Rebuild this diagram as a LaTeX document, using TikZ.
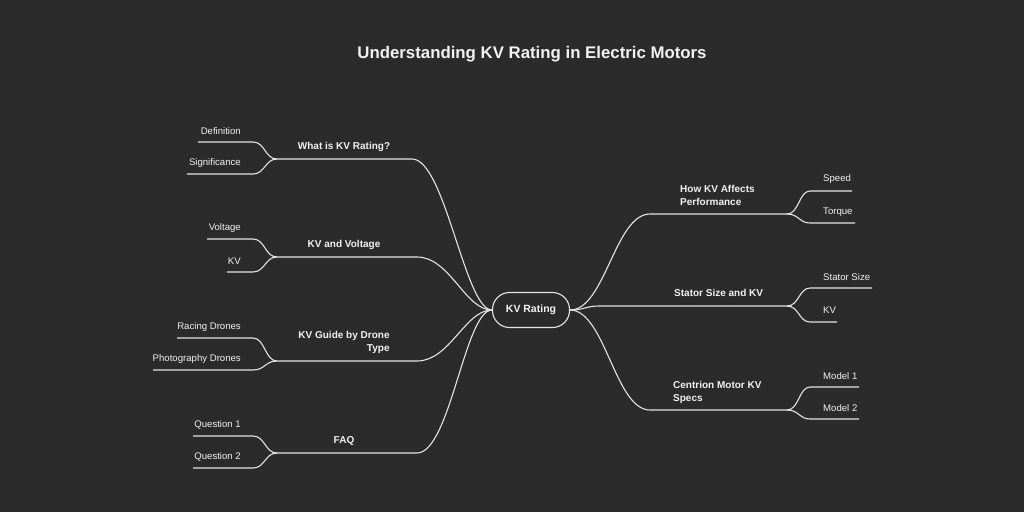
\documentclass[tikz,border=0pt]{standalone}
\usepackage{fontspec}
\setmainfont{Liberation Sans}
\definecolor{bg}{HTML}{2B2B2B}
\definecolor{ln}{HTML}{E4E4E4}
\definecolor{tx}{HTML}{F2F2F2}
\begin{document}
\begin{tikzpicture}[x=1pt,y=-1pt,
  conn/.style={draw=ln,line width=1.1pt},
  title/.style={text=tx,font=\bfseries\fontsize{16.8}{19}\selectfont,inner sep=0pt},
  branchlbl/.style={text=tx,font=\bfseries\fontsize{10}{13}\selectfont,inner sep=0pt},
  leaflbl/.style={text=tx,font=\fontsize{9.6}{11}\selectfont,inner sep=0pt},
  hub/.style={draw=ln,line width=1.1pt,fill=bg,rounded corners=17pt,minimum width=77pt,minimum height=35pt,text=tx,font=\bfseries\fontsize{10.5}{13}\selectfont}]
\fill[bg] (0,0) rectangle (1024,512);
\useasboundingbox (0,0) rectangle (1024,512);

\node[title] (ttl) at (532,54) {Understanding KV Rating in Electric Motors};

% ---------- left side coordinates ----------
\coordinate (b1r) at (412,159); \coordinate (b1l) at (277,159);
\coordinate (b2r) at (417,257); \coordinate (b2l) at (277,257);
\coordinate (b3r) at (417,361); \coordinate (b3l) at (277,361);
\coordinate (b4r) at (417,453); \coordinate (b4l) at (277,453);

\coordinate (l1ae) at (253,142); \coordinate (l1as) at (198,142);
\coordinate (l1be) at (253,174); \coordinate (l1bs) at (187,174);
\coordinate (l2ae) at (253,239); \coordinate (l2as) at (207,239);
\coordinate (l2be) at (253,272); \coordinate (l2bs) at (227,272);
\coordinate (l3ae) at (253,338); \coordinate (l3as) at (177,338);
\coordinate (l3be) at (253,370); \coordinate (l3bs) at (153,370);
\coordinate (l4ae) at (253,436); \coordinate (l4as) at (193,436);
\coordinate (l4be) at (253,468); \coordinate (l4bs) at (193,468);

% ---------- right side coordinates ----------
\coordinate (r1l) at (650,214); \coordinate (r1r) at (787,214);
\coordinate (r2l) at (600,306); \coordinate (r2r) at (787,306);
\coordinate (r3l) at (650,410); \coordinate (r3r) at (787,410);

\coordinate (s1ae) at (810,191); \coordinate (s1as) at (852,191);
\coordinate (s1be) at (810,223); \coordinate (s1bs) at (855,223);
\coordinate (s2ae) at (810,288); \coordinate (s2as) at (872,288);
\coordinate (s2be) at (810,322); \coordinate (s2bs) at (837,322);
\coordinate (s3ae) at (810,387); \coordinate (s3as) at (859,387);
\coordinate (s3be) at (810,419); \coordinate (s3bs) at (859,419);

% ---------- hub ----------
\node[hub] (kv) at (531,310) {KV Rating};

% ---------- left connectors ----------
\draw[conn] (kv.west) .. controls (465,310) and (445,159) .. (b1r) -- (b1l);
\draw[conn] (kv.west) .. controls (465,310) and (450,257) .. (b2r) -- (b2l);
\draw[conn] (kv.west) .. controls (465,310) and (450,361) .. (b3r) -- (b3l);
\draw[conn] (kv.west) .. controls (465,310) and (450,453) .. (b4r) -- (b4l);

\draw[conn] (b1l) .. controls (265,159) and (265,142) .. (l1ae) -- (l1as);
\draw[conn] (b1l) .. controls (265,159) and (265,174) .. (l1be) -- (l1bs);
\draw[conn] (b2l) .. controls (265,257) and (265,239) .. (l2ae) -- (l2as);
\draw[conn] (b2l) .. controls (265,257) and (265,272) .. (l2be) -- (l2bs);
\draw[conn] (b3l) .. controls (265,361) and (265,338) .. (l3ae) -- (l3as);
\draw[conn] (b3l) .. controls (265,361) and (265,370) .. (l3be) -- (l3bs);
\draw[conn] (b4l) .. controls (265,453) and (265,436) .. (l4ae) -- (l4as);
\draw[conn] (b4l) .. controls (265,453) and (265,468) .. (l4be) -- (l4bs);

% ---------- right connectors ----------
\draw[conn] (kv.east) .. controls (605,310) and (615,214) .. (r1l) -- (r1r);
\draw[conn] (kv.east) .. controls (585,310) and (585,306) .. (r2l) -- (r2r);
\draw[conn] (kv.east) .. controls (605,310) and (615,410) .. (r3l) -- (r3r);

\draw[conn] (r1r) .. controls (799,214) and (799,191) .. (s1ae) -- (s1as);
\draw[conn] (r1r) .. controls (799,214) and (799,223) .. (s1be) -- (s1bs);
\draw[conn] (r2r) .. controls (799,306) and (799,288) .. (s2ae) -- (s2as);
\draw[conn] (r2r) .. controls (799,306) and (799,322) .. (s2be) -- (s2bs);
\draw[conn] (r3r) .. controls (799,410) and (799,387) .. (s3ae) -- (s3as);
\draw[conn] (r3r) .. controls (799,410) and (799,419) .. (s3be) -- (s3bs);

% ---------- branch labels ----------
\node[branchlbl] (t1) at (344,147) {What is KV Rating?};
\node[branchlbl] (t2) at (344,245) {KV and Voltage};
\node[branchlbl,align=right] (t3) at (344,342.5) {KV Guide by Drone\\Type};
\node[branchlbl] (t4) at (344,441) {FAQ};
\node[branchlbl,align=left,anchor=west] (u1) at (680,195.5) {How KV Affects\\Performance};
\node[branchlbl,anchor=west] (u2) at (674,293) {Stator Size and KV};
\node[branchlbl,align=left,anchor=west] (u3) at (673,392) {Centrion Motor KV\\Specs};

% ---------- leaf labels ----------
\node[leaflbl,anchor=east] (d1) at (241,131) {Definition};
\node[leaflbl,anchor=east] (d2) at (241,163) {Significance};
\node[leaflbl,anchor=east] (d3) at (241,228) {Voltage};
\node[leaflbl,anchor=east] (d4) at (241,261) {KV};
\node[leaflbl,anchor=east] (d5) at (241,327) {Racing Drones};
\node[leaflbl,anchor=east] (d6) at (241,359) {Photography Drones};
\node[leaflbl,anchor=east] (d7) at (241,425) {Question 1};
\node[leaflbl,anchor=east] (d8) at (241,457) {Question 2};

\node[leaflbl,anchor=west] (e1) at (823,179) {Speed};
\node[leaflbl,anchor=west] (e2) at (823,212) {Torque};
\node[leaflbl,anchor=west] (e3) at (823,277) {Stator Size};
\node[leaflbl,anchor=west] (e4) at (823,310) {KV};
\node[leaflbl,anchor=west] (e5) at (823,376) {Model 1};
\node[leaflbl,anchor=west] (e6) at (823,408) {Model 2};
\end{tikzpicture}
\end{document}
